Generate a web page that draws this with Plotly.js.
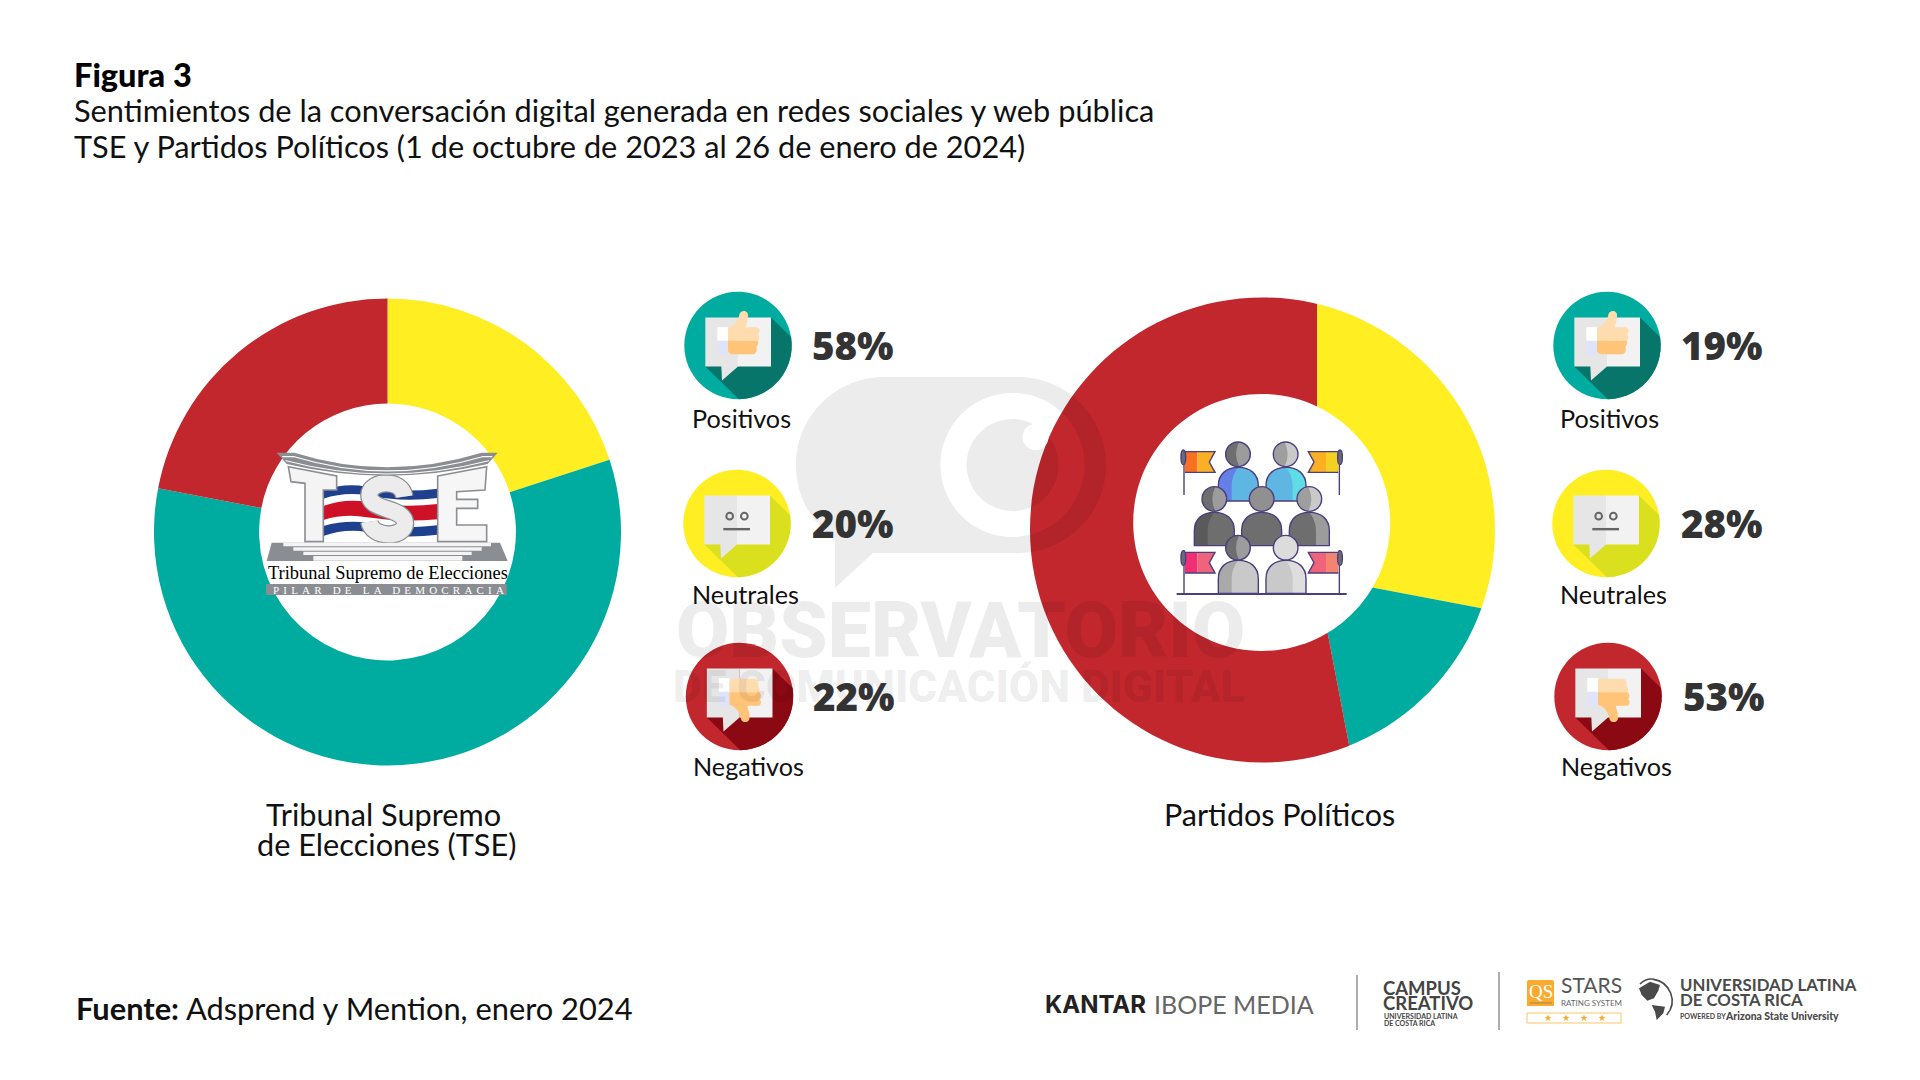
<!DOCTYPE html>
<html><head><meta charset="utf-8">
<script src="https://cdn.plot.ly/plotly-3.0.1.min.js"></script>
<style>html,body{margin:0;padding:0;background:#fff}#g{width:1920px;height:1080px}</style>
</head><body><div id="g"></div>
<script>
// ---- DATA ----
const sentimentOrder = ['Neutrales','Positivos','Negativos'];   // clockwise from 12 o'clock
const tseValues = [20,58,22];
const partidosValues = [28,19,53];
const sliceColors = ['#FEEE22','#00AB9F','#C1272D'];
const legendOrder = ['Positivos','Neutrales','Negativos'];
const titleLines = ['Sentimientos de la conversación digital generada en redes sociales y web pública','TSE y Partidos Políticos (1 de octubre de 2023 al 26 de enero de 2024)'];

// ---- helpers ----
const W=1920,H=1080, FONT='Lato';
const shapes=[], annos=[];
const fx=x=>x/W, fy=y=>1-y/H;
function mapPath(d,f){ // every number pair in d goes through f -> pixel, then to paper
  const nums=[]; let i=0;
  const re=/-?\d+(\.\d+)?/g; let m; while((m=re.exec(d))) nums.push(+m[0]);
  return d.replace(re,()=>{const k=i++; const a=k-(k%2); const p=f(nums[a],nums[a+1]); return (k%2===0?fx(p[0]):fy(p[1])).toFixed(6);});
}
const id=(x,y)=>[x,y];
function sh(d,fill,line,lw,f,extra){ shapes.push(Object.assign({type:'path',xref:'paper',yref:'paper',layer:'above',path:mapPath(d,f||id),
  fillcolor:fill||'rgba(0,0,0,0)',line:{color:line||'rgba(0,0,0,0)',width:lw||0}},extra||{})); }
function circ(cx,cy,r,ry){ry=ry||r;const k=.5523;const a=r*k,b=ry*k;const n=v=>v.toFixed(2);
  return `M${n(cx-r)},${n(cy)} C${n(cx-r)},${n(cy-b)} ${n(cx-a)},${n(cy-ry)} ${n(cx)},${n(cy-ry)} C${n(cx+a)},${n(cy-ry)} ${n(cx+r)},${n(cy-b)} ${n(cx+r)},${n(cy)} C${n(cx+r)},${n(cy+b)} ${n(cx+a)},${n(cy+ry)} ${n(cx)},${n(cy+ry)} C${n(cx-a)},${n(cy+ry)} ${n(cx-r)},${n(cy+b)} ${n(cx-r)},${n(cy)} Z`;}
function tx(text,x,y,size,o){o=o||{};annos.push({text,xref:'paper',yref:'paper',x:fx(x),y:fy(y),showarrow:false,xanchor:o.anchor||'left',yanchor:'middle',align:o.align||'left',
  borderpad:0,font:{family:o.family||FONT,size,color:o.color||'#111',weight:o.weight||400}});}

// ---- right donut: the wedge apex is off the ring's centre, so the pie is larger and masked to the ring ----
const rc={x:1262.5,y:530,r:232.5}, apex={x:1317,y:577}, apexR=310;
sh(`M${apex.x-apexR-2},${apex.y-apexR-2} L${apex.x+apexR+2},${apex.y-apexR-2} L${apex.x+apexR+2},${apex.y+apexR+2} L${apex.x-apexR-2},${apex.y+apexR+2} Z `+circ(rc.x,rc.y,rc.r),'#fff',null,0,id,{fillrule:'evenodd'});
sh(circ(1261.7,522.5,128.5),'#fff');

// ---- sentiment icons ----
const pal={Positivos:['#00AB9F','#07756A'],Neutrales:['#FEEE22','#DBE01E'],Negativos:['#C1272D','#8A0913']};
function icon(cx,cy,kind){
  const [c,dark]=pal[kind];
  const f=(x,y)=>[cx+(x-203)/3,cy+(y-182)/3];
  sh(circ(cx,cy,53.7),c);
  // long shadow: bubble corner to circle edge, following the rim
  const pts=[];for(let a=-9;a<=89;a+=7){const r=a*Math.PI/180;pts.push((cx+53.7*Math.cos(r)).toFixed(2)+','+(cy+53.7*Math.sin(r)).toFixed(2));}
  const p1=f(302,98),p2=f(105,245);
  sh(`M${p1[0]},${p1[1]} L${pts.join(' L')} L${p2[0]},${p2[1]} Z`,dark);
  sh('M105,98 L203,98 L203,245 L203,245 L155,287 L153,245 L105,245 Z','#E6E6E6',null,0,f);
  sh('M203,98 L302,98 L302,245 L203,245 Z','#F2F2F2',null,0,f);
  if(kind==='Neutrales'){
    sh(circ(181,160,10),'rgba(0,0,0,0)','#666',2,f);
    sh(circ(225,160,10),'rgba(0,0,0,0)','#666',2,f);
    sh('M162,199 L242,199','rgba(0,0,0,0)','#666',2.4,f);
    return;
  }
  sh('M141,127 L173,127 L173,168 L141,168 Z','#FFFFFF',null,0,f);
  sh('M141,168 L173,168 L173,210 L141,210 Z','#E0E4FA',null,0,f);
  const up='M173,130 C190,125 203,110 207,90 C209,74 234,74 233,92 C234,105 228,118 226,127 L258,127 C270,127 270,145 262,147 C270,150 268,165 262,168 L173,168 Z';
  const low='M173,168 L262,168 C266,172 262,184 258,187 C262,192 258,206 250,208 L185,208 C177,208 173,202 173,195 Z';
  if(kind==='Positivos'){ sh(up,'#FFDCAE',null,0,f); sh(low,'#FFC477',null,0,f); }
  else { const h=(x,y)=>f(x,337-y); sh(low,'#FFDCAE',null,0,h); sh(up,'#FFC477',null,0,h); }
}
const iconPos={left:[[738,345.5],[737,523.5],[739.5,696.5]],right:[[1607,345.5],[1606,523.5],[1608,696.5]]};
legendOrder.forEach((k,i)=>{icon(iconPos.left[i][0],iconPos.left[i][1],k);icon(iconPos.right[i][0],iconPos.right[i][1],k);});

// ---- TSE logo ----
(function(){
  const f=(x,y)=>[255+x/3,440+y/3], G='#8A8D92';
  sh('M205,148 Q270,128 335,140 Q440,160 548,146 L548,290 Q440,298 335,280 Q270,268 205,290 Z','#fff',null,0,f);
  sh('M205,150 Q270,128 335,140 Q440,160 548,146 L548,174 Q440,188 335,166 Q270,155 205,176 Z','#1F3F8F',null,0,f);
  sh('M205,198 Q270,175 335,186 Q440,205 548,192 L548,238 Q440,248 335,232 Q270,220 205,240 Z','#CF1127',null,0,f);
  sh('M205,258 Q270,240 335,248 Q440,270 548,256 L548,284 Q440,298 335,276 Q270,265 205,288 Z','#1F3F8F',null,0,f);
  // T and E
  sh('M100,80 L108,125 L150,130 L150,305 L205,305 L205,150 L245,150 L245,108 Z','#F4F4F4',G,1.6,f);
  sh('M548,108 L695,80 L690,150 L605,155 L605,178 L668,178 L668,205 L605,205 L605,255 L695,255 L695,305 L548,305 Z','#F6F6F6',G,1.6,f);
  // S
  const S='M448,170 C440,115 345,120 343,165 C343,215 450,200 450,250 C450,295 350,295 343,245';
  sh(S,null,G,18.5,f); sh(S,null,'#ECECEC',16,f);
  // cornice
  sh('M65,38 L118,38 Q395,125 680,38 L728,38 L698,72 Q395,142 95,72 Z',G,null,0,f);
  sh('M82,50 L118,50 Q395,135 682,50 L712,50','rgba(0,0,0,0)','#fff',1.1,f);
  sh('M92,62 Q395,142 702,62','rgba(0,0,0,0)','#fff',1,f);
  // base and steps
  sh('M50,308 L735,308 L758,363 L35,363 Z',G,null,0,f);
  sh('M85,308 L708,308 L708,319 L85,319 Z','#F4F4F4',null,0,f);
  sh('M115,322 L680,322 L680,332 L115,332 Z','#F4F4F4',null,0,f);
  sh('M145,335 L650,335 L650,345 L145,345 Z','#F4F4F4',null,0,f);
  sh('M175,348 L622,348 L622,362 L175,362 Z','#F4F4F4',null,0,f);
  sh('M33,432 L755,432 L755,465 L33,465 Z',G,null,0,f);
})();

// ---- people icon ----
(function(){
  const f=(x,y)=>[1170+x/3,435+y/3], L='#4B3F7F', lw=1.4;
  function flag(px,y0,y1,dir,y,c1,c2){ // pole, knob, pennant
    const a=px+dir*3, m=px+dir*40, e=px+dir*93, n=px+dir*76;
    sh(`M${px},${y0} L${px},${y1}`,null,L,lw,f);
    sh(`M${a},${y} L${m},${y} L${m},${y+62} L${a},${y+62} Z`,c1,null,0,f);
    sh(`M${m},${y} L${e},${y} L${n},${y+31} L${e},${y+62} L${m},${y+62} Z`,c2,null,0,f);
    sh(`M${a},${y} L${e},${y} L${n},${y+31} L${e},${y+62} L${a},${y+62}`,null,L,lw,f);
    sh(circ(px-dir*2,y+17,7,22),'#6B6B73',L,lw,f);
  }
  flag(42,45,180,1,50,'#F97022','#FBB024');
  flag(508,45,180,-1,50,'#F5D020','#FBB024');
  flag(42,345,475,1,352,'#F22E75','#F0647B');
  flag(508,345,475,-1,352,'#F28470','#F0647B');
  sh('M20,477 L530,477',null,L,1.8,f);
  function person(hx,hy,bl,bt,bb,cMain,cStrip,side,hMain,hCres,cresSide){
    const br=bl+120, mid=bl+60;
    const body=`M${bl},${bb} L${bl},${bt+55} C${bl},${bt+20} ${bl+25},${bt} ${mid},${bt} C${br-25},${bt} ${br},${bt+20} ${br},${bt+55} L${br},${bb} Z`;
    sh(body,cMain,null,0,f);
    if(side==='L') sh(`M${bl},${bb} L${bl},${bt+55} C${bl},${bt+20} ${bl+25},${bt} ${mid},${bt} C${bl+48},${bt+15} ${bl+40},${bt+35} ${bl+40},${bt+55} L${bl+40},${bb} Z`,cStrip,null,0,f);
    else sh(`M${br},${bb} L${br},${bt+55} C${br},${bt+20} ${br-25},${bt} ${mid},${bt} C${br-48},${bt+15} ${br-40},${bt+35} ${br-40},${bt+55} L${br-40},${bb} Z`,cStrip,null,0,f);
    sh(body,null,L,lw,f);
    sh(circ(hx,hy,37),hMain,null,0,f);
    if(cresSide){const d=cresSide; sh(`M${hx+d*3},${hy-36} Q${hx-d*15},${hy} ${hx+d*3},${hy+36} C${hx+d*46},${hy+24} ${hx+d*46},${hy-24} ${hx+d*3},${hy-36} Z`,hCres,null,0,f);}
    sh(circ(hx,hy,37),'rgba(0,0,0,0)',L,lw,f);
  }
  person(204,58,145,97,198,'#5FB6E3','#6480E6','L','#6E6E6E','#9C9C9C',1);
  person(347,58,288,97,198,'#5FB6E3','#5FDDE6','R','#C9C9C9','#9E9E9E',-1);
  person(133,192,73,232,332,'#6E6E6E','#5A5A5A','L','#6E6E6E','#9C9C9C',1);
  person(275,192,215,232,332,'#6E6E6E','#6E6E6E','L','#909090',null,0);
  person(418,192,358,232,332,'#6E6E6E','#9C9C9C','R','#C9C9C9','#9E9E9E',-1);
  person(204,338,145,376,475,'#C9C9C9','#A9A9A9','L','#6E6E6E','#9C9C9C',1);
  person(347,338,288,376,475,'#C9C9C9','#DEDEDE','R','#DCDCDC',null,0);
})();

// ---- footer marks ----
sh('M1357,975 L1357,1030',null,'#777',1.2);
sh('M1499,972 L1499,1030',null,'#777',1.2);
sh('M1527,982 Q1527,980 1529,980 L1552,980 Q1554,980 1554,982 L1554,1006 L1527,1006 Z','#F9AB2F');
sh('M1530,1003 L1552,1003',null,'#B58A4A',1.2);
sh('M1527,1013 L1621,1013 L1621,1023 L1527,1023 Z','#fff','#FBC56B',1);
[1548,1566,1584,1602].forEach(c=>{const p=[];for(let i=0;i<10;i++){const r=i%2?1.5:3.6,a=-Math.PI/2+i*Math.PI/5;p.push((c+r*Math.cos(a)).toFixed(2)+','+(1018+r*Math.sin(a)).toFixed(2));}sh('M'+p.join(' L')+' Z','#F9AB2F');});
(function(){const f=(x,y)=>[1490+x/3,970+y/3],c='#4A4A4A';
  sh('M447,55 L480,35 L510,45 L505,62 L492,85 L472,92 L455,75 Z',c,null,0,f);
  sh('M485,105 L525,110 L520,130 L500,150 L495,125 Z',c,null,0,f);
  sh('M490,28 C540,35 565,95 530,135',null,c,1.6,f);
  sh('M450,42 C462,30 478,25 492,28',null,c,1.6,f);
})();

// ---- watermark ----
const WM='rgba(0,0,0,0.075)';
sh('M884,377 L1018,377 C1066.6,377 1106,416.4 1106,465 C1106,513.6 1066.6,553 1018,553 L873,553 L835,588 L835,538 C810,522 796,495 796,465 C796,416.4 835.4,377 884,377 Z '+circ(1012.5,465,72),WM,null,0,id,{fillrule:'evenodd'});
sh(circ(1012.5,465,46),WM);
sh(circ(1035.5,437,13),'#fff');

// ---- text ----
tx('OBSERVATORIO',960,630,77.3,{anchor:'center',family:'Roboto',weight:900,color:WM});
tx('DE COMUNICACIÓN DIGITAL',959,687,44,{anchor:'center',family:'Roboto',weight:900,color:WM});
tx('Figura 3',73,75,32.5,{weight:900,color:'#000'});
tx(titleLines[0],73,111,30.75,{color:'#111'});
tx(titleLines[1],73,147,30.7,{color:'#111'});
tx('Tribunal Supremo',383,814,30.7,{anchor:'center'});
tx('de Elecciones (TSE)',386,844,30.7,{anchor:'center'});
tx('Partidos Políticos',1279,814,30.5,{anchor:'center'});
const labelX={left:[691,691,691.5],right:[1558.5,1558.5,1560]}, labelY=[418,594,766];
const pctX={left:[811,811,812],right:[1680,1680,1682]};
const pctY=[345,523,696];
const byLabel=(vals,k)=>vals[sentimentOrder.indexOf(k)];
legendOrder.forEach((k,i)=>{
  tx(k,labelX.left[i],labelY[i],25.2);
  tx(k,labelX.right[i],labelY[i],25.2);
  tx(byLabel(tseValues,k)+'%',pctX.left[i],pctY[i],38.5,{family:'Open Sans',weight:800,color:'#333'});
  tx(byLabel(partidosValues,k)+'%',pctX.right[i],pctY[i],38.5,{family:'Open Sans',weight:800,color:'#333'});
});
tx('<b>Fuente:</b> Adsprend y Mention, enero 2024',75,1008,30.8,{color:'#111'});
tx('KANTAR',1044,1004,24,{family:'Inter',weight:700,color:'#222'});
tx('IBOPE MEDIA',1153,1004,25,{family:'Lato',color:'#666'});
tx('CAMPUS',1382,988,18.5,{family:'Lato',weight:700,color:'#444'});
tx('CREATIVO',1382,1003,18.5,{family:'Lato',weight:700,color:'#444'});
tx('UNIVERSIDAD LATINA',1383,1016,7,{family:'Lato',weight:700,color:'#444'});
tx('DE COSTA RICA',1383,1023,7,{family:'Lato',weight:700,color:'#444'});
tx('QS',1540.5,991,19,{anchor:'center',family:'Liberation Serif',color:'#fff'});
tx('STARS',1560,984,21,{family:'Lato',color:'#555'});
tx('RATING SYSTEM',1560,1003,8,{family:'Lato',color:'#666'});
tx('UNIVERSIDAD LATINA',1679,984,16.8,{family:'Lato',weight:700,color:'#4A4A4A'});
tx('DE COSTA RICA',1679,999,16.8,{family:'Lato',weight:700,color:'#4A4A4A'});
tx('POWERED BY',1679,1016,7,{family:'Lato',weight:700,color:'#4A4A4A'});
tx('Arizona State University',1724,1016,10.4,{family:'Lato',weight:900,color:'#4A4A4A'});
tx('Tribunal Supremo de Elecciones',387.5,573,18.4,{anchor:'center',family:'Liberation Serif',color:'#000'});
tx('PILAR DE LA DEMOCRACIA',272,589.5,11,{family:'Liberation Serif',color:'#fff'});

// ---- traces ----
const pieBase={type:'pie',sort:false,direction:'clockwise',rotation:0,textinfo:'none',hoverinfo:'label+percent',showlegend:false,labels:sentimentOrder,marker:{colors:sliceColors,line:{width:0}}};
const left={cx:387.5,cy:532,r:233.5};
const traces=[
 Object.assign({},pieBase,{values:tseValues,hole:0.55,domain:{x:[fx(left.cx-left.r),fx(left.cx+left.r)],y:[fy(left.cy+left.r),fy(left.cy-left.r)]}}),
 Object.assign({},pieBase,{values:partidosValues,domain:{x:[fx(apex.x-apexR),fx(apex.x+apexR)],y:[fy(apex.y+apexR),fy(apex.y-apexR)]}})
];
Plotly.newPlot('g',traces,{width:W,height:H,margin:{l:0,r:0,t:0,b:0},paper_bgcolor:'#fff',plot_bgcolor:'#fff',showlegend:false,shapes,annotations:annos},{displayModeBar:false,staticPlot:true}).then(()=>{
  document.querySelectorAll('.annotation-text').forEach(t=>{ if(t.textContent==='PILAR DE LA DEMOCRACIA') t.style.letterSpacing='4.2px'; });
});
</script></body></html>
